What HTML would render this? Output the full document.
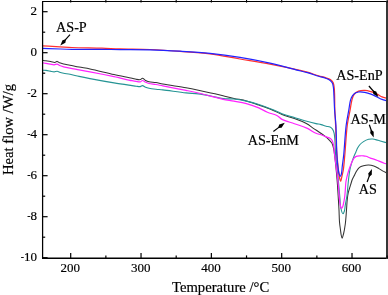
<!DOCTYPE html>
<html><head><meta charset="utf-8"><style>
html,body{margin:0;padding:0;background:#fff;width:388px;height:295px;overflow:hidden}
svg{display:block}
text{font-family:"Liberation Serif","Times New Roman",serif;fill:#000;stroke:#000;stroke-width:0.18px}
</style></head><body>
<svg width="388" height="295" viewBox="0 0 388 295">
<rect x="0" y="0" width="388" height="295" fill="#fff"/>

<g fill="none" stroke-linejoin="round" stroke-linecap="round">
<path d="M42.50,60.30 C43.67,60.43 44.71,60.50 46.00,60.70 C47.61,60.96 49.81,61.50 51.40,61.80 C52.66,62.04 53.78,62.51 54.80,62.40 C55.69,62.30 56.41,61.35 57.20,61.40 C58.01,61.45 58.67,62.40 59.60,62.80 C60.74,63.29 62.10,63.64 63.60,64.00 C65.47,64.46 67.68,64.74 70.00,65.20 C72.77,65.75 75.92,66.49 79.10,67.10 C82.56,67.76 85.67,68.12 90.00,69.00 C96.46,70.31 106.56,72.97 114.00,74.60 C120.42,76.01 128.13,77.43 132.00,78.30 C133.86,78.72 134.72,79.08 136.10,79.30 C137.48,79.52 139.16,79.87 140.30,79.60 C141.19,79.39 141.72,78.27 142.50,78.30 C143.46,78.34 144.50,79.91 145.60,80.50 C146.67,81.07 147.64,81.47 149.00,81.80 C150.89,82.26 153.69,82.21 156.00,82.60 C158.29,82.98 159.85,83.54 162.80,84.10 C168.22,85.13 179.48,86.65 186.00,87.80 C190.78,88.64 194.27,89.35 198.40,90.20 C202.54,91.05 206.68,91.97 210.80,92.90 C214.91,93.83 219.12,94.86 223.10,95.80 C226.84,96.69 230.24,97.57 234.00,98.40 C237.99,99.28 242.30,99.81 246.40,100.90 C250.57,102.00 254.68,103.58 258.80,105.00 C262.92,106.42 267.16,107.78 271.10,109.40 C274.88,110.96 278.20,112.99 282.00,114.50 C285.96,116.07 290.30,117.06 294.40,118.60 C298.56,120.16 303.45,121.96 306.80,123.80 C309.31,125.18 310.75,126.59 313.00,128.10 C315.62,129.86 319.16,131.99 321.60,133.70 C323.49,135.03 325.04,136.15 326.50,137.40 C327.80,138.52 329.02,139.72 330.00,140.80 C330.79,141.67 331.44,142.26 332.00,143.30 C332.72,144.65 333.18,146.57 333.60,148.40 C334.07,150.44 334.23,152.09 334.60,155.00 C335.31,160.65 336.49,172.72 337.10,180.00 C337.57,185.63 337.78,190.00 338.10,195.00 C338.42,200.00 338.76,205.28 339.00,210.00 C339.21,214.22 339.20,218.41 339.50,222.00 C339.74,224.94 340.19,227.65 340.50,230.00 C340.75,231.86 340.89,233.53 341.20,235.00 C341.45,236.19 341.75,238.19 342.10,238.20 C342.50,238.21 343.06,235.72 343.50,234.00 C344.16,231.40 344.82,227.63 345.30,224.00 C345.87,219.74 346.15,214.39 346.50,210.00 C346.81,206.11 346.95,202.11 347.30,199.00 C347.56,196.69 347.80,194.84 348.20,193.00 C348.55,191.38 349.05,190.04 349.50,188.50 C349.98,186.88 350.49,185.12 351.00,183.50 C351.49,181.96 351.89,180.43 352.50,179.00 C353.10,177.60 353.92,176.34 354.60,175.00 C355.28,173.67 355.80,172.27 356.60,171.00 C357.42,169.70 358.32,168.19 359.50,167.30 C360.63,166.45 362.06,166.08 363.50,165.70 C365.07,165.28 366.90,164.95 368.60,165.00 C370.33,165.05 372.11,165.42 373.80,166.00 C375.55,166.60 377.31,167.71 378.90,168.60 C380.36,169.41 381.61,170.33 383.00,171.10 C384.38,171.86 385.80,172.50 387.20,173.20" stroke="#333" stroke-width="1.05"/>
<path d="M42.50,70.20 C43.67,70.27 44.79,70.26 46.00,70.40 C47.32,70.55 48.74,70.85 50.10,71.10 C51.44,71.35 52.85,71.90 54.10,71.90 C55.20,71.90 56.25,71.20 57.20,71.30 C58.07,71.39 58.69,72.00 59.60,72.30 C60.75,72.68 62.10,73.00 63.60,73.30 C65.48,73.68 67.69,73.85 70.00,74.30 C72.78,74.84 75.92,75.71 79.10,76.40 C82.56,77.15 85.65,77.77 90.00,78.60 C96.44,79.83 106.57,81.68 114.00,82.90 C120.42,83.96 128.12,85.03 132.00,85.60 C133.85,85.87 134.72,86.03 136.10,86.20 C137.49,86.37 139.15,86.79 140.30,86.60 C141.17,86.45 141.71,85.57 142.50,85.60 C143.45,85.64 144.52,86.85 145.60,87.30 C146.68,87.75 147.65,88.01 149.00,88.30 C150.90,88.71 153.68,89.03 156.00,89.30 C158.28,89.56 159.86,89.58 162.80,89.90 C168.24,90.49 179.46,92.21 186.00,92.90 C190.77,93.40 194.28,93.39 198.40,93.90 C202.54,94.42 206.68,95.22 210.80,96.00 C214.92,96.78 219.10,98.11 223.10,98.60 C226.82,99.06 230.26,98.62 234.00,99.00 C238.01,99.41 242.29,100.21 246.40,101.10 C250.55,102.00 254.71,103.09 258.80,104.40 C262.94,105.72 267.14,107.41 271.10,109.00 C274.86,110.51 278.21,112.29 282.00,113.70 C285.96,115.17 290.26,116.33 294.40,117.60 C298.53,118.87 302.96,120.25 306.80,121.30 C310.08,122.20 313.38,123.02 316.00,123.60 C317.94,124.03 319.41,124.17 321.10,124.60 C322.81,125.04 324.62,125.79 326.20,126.20 C327.55,126.55 328.92,126.47 330.00,127.00 C330.99,127.48 331.84,128.19 332.50,129.10 C333.26,130.15 333.71,131.54 334.10,133.10 C334.61,135.12 334.68,137.47 334.90,140.30 C335.22,144.33 335.17,149.46 335.60,155.00 C336.16,162.24 337.55,172.35 338.30,180.00 C338.94,186.49 339.44,192.88 339.90,198.00 C340.24,201.82 340.15,205.16 340.80,208.00 C341.31,210.24 342.31,213.77 343.00,213.80 C343.49,213.82 344.04,212.14 344.40,211.00 C344.90,209.41 344.94,207.20 345.30,205.00 C345.74,202.30 346.42,199.44 346.90,196.00 C347.53,191.44 347.95,184.67 348.50,180.00 C348.93,176.36 349.20,173.37 349.80,170.30 C350.36,167.46 351.15,164.65 351.90,162.20 C352.53,160.12 353.20,158.27 353.90,156.50 C354.54,154.90 355.26,153.45 355.90,152.00 C356.49,150.65 356.92,149.35 357.60,148.10 C358.29,146.84 359.03,145.57 360.00,144.50 C360.99,143.40 362.16,142.44 363.50,141.60 C364.99,140.67 366.96,139.72 368.60,139.30 C370.01,138.94 371.26,138.88 372.70,139.00 C374.34,139.14 376.27,139.86 377.90,140.30 C379.35,140.69 380.59,141.10 382.00,141.50 C383.51,141.93 385.13,142.37 386.70,142.80" stroke="#259494" stroke-width="1.1"/>
<path d="M42.50,62.80 C43.67,63.00 44.79,63.19 46.00,63.40 C47.31,63.62 48.74,63.87 50.10,64.10 C51.44,64.33 52.85,64.83 54.10,64.80 C55.20,64.77 56.26,63.95 57.20,64.10 C58.08,64.24 58.67,65.08 59.60,65.50 C60.74,66.01 62.10,66.39 63.60,66.80 C65.47,67.31 67.67,67.74 70.00,68.20 C72.76,68.74 75.93,69.23 79.10,69.80 C82.57,70.42 85.66,70.96 90.00,71.80 C96.45,73.05 106.58,75.12 114.00,76.70 C120.44,78.07 128.12,79.94 132.00,80.70 C133.84,81.06 134.72,81.22 136.10,81.40 C137.49,81.58 139.16,82.05 140.30,81.80 C141.19,81.60 141.70,80.51 142.50,80.50 C143.44,80.48 144.53,81.70 145.60,82.20 C146.69,82.70 147.64,83.15 149.00,83.50 C150.89,83.99 153.69,84.10 156.00,84.50 C158.29,84.90 159.86,85.31 162.80,85.90 C168.23,86.99 179.47,89.08 186.00,90.40 C190.78,91.36 194.28,92.04 198.40,93.00 C202.54,93.97 206.67,95.15 210.80,96.20 C214.91,97.25 219.11,98.47 223.10,99.30 C226.83,100.08 230.26,100.41 234.00,101.10 C238.01,101.83 242.30,102.48 246.40,103.60 C250.57,104.74 255.09,106.32 258.80,107.90 C261.98,109.26 264.38,111.02 267.40,112.30 C270.54,113.63 274.70,114.28 277.30,115.70 C279.27,116.77 279.94,118.27 282.00,119.40 C285.05,121.07 290.27,122.25 294.40,123.70 C298.54,125.15 303.04,126.39 306.80,128.10 C310.17,129.64 313.33,132.17 316.00,133.30 C317.90,134.10 319.42,134.21 321.10,134.80 C322.82,135.40 324.62,136.30 326.20,136.90 C327.55,137.41 328.99,137.56 330.00,138.20 C330.85,138.75 331.45,139.37 332.00,140.30 C332.74,141.55 333.19,143.33 333.60,145.30 C334.16,147.98 334.14,151.02 334.60,155.00 C335.34,161.40 336.94,172.12 337.80,180.00 C338.57,187.03 339.07,195.29 339.60,200.00 C339.89,202.59 339.96,204.47 340.40,206.00 C340.69,207.01 341.09,208.35 341.50,208.40 C341.84,208.44 342.32,207.54 342.60,207.00 C342.90,206.42 342.98,205.91 343.20,205.00 C343.66,203.09 344.37,199.34 344.80,196.00 C345.33,191.86 345.44,185.39 345.90,182.00 C346.17,180.04 346.40,179.09 346.80,177.40 C347.31,175.28 348.04,172.65 348.80,170.30 C349.57,167.92 350.46,165.33 351.40,163.20 C352.21,161.36 353.04,159.39 354.00,158.20 C354.68,157.36 355.30,156.80 356.20,156.40 C357.24,155.93 358.76,155.90 360.00,155.80 C361.19,155.71 362.42,155.70 363.50,155.80 C364.44,155.89 365.14,156.01 366.10,156.30 C367.37,156.68 369.04,157.62 370.40,158.10 C371.59,158.52 372.56,158.68 373.80,159.10 C375.34,159.63 377.19,160.42 378.90,161.10 C380.63,161.79 382.52,162.62 384.10,163.20 C385.40,163.68 386.50,164.00 387.70,164.40" stroke="#ff22ff" stroke-width="1.2"/>
<path d="M42.50,45.80 C48.33,46.13 54.72,46.49 60.00,46.80 C64.38,47.05 67.10,47.30 72.00,47.50 C79.75,47.82 93.27,47.93 102.00,48.20 C108.76,48.41 113.24,48.70 120.00,48.90 C128.73,49.16 140.00,49.10 150.00,49.50 C160.00,49.90 170.00,50.58 180.00,51.30 C190.00,52.02 200.03,52.52 210.00,53.80 C220.03,55.08 230.00,57.27 240.00,59.00 C250.00,60.73 260.02,62.30 270.00,64.20 C280.02,66.10 293.40,68.91 300.00,70.40 C303.27,71.14 304.61,71.44 307.30,72.20 C310.69,73.15 315.38,74.81 318.70,75.80 C321.25,76.56 323.45,77.01 325.50,77.70 C327.26,78.29 328.99,78.71 330.30,79.60 C331.47,80.39 332.45,81.36 333.10,82.60 C333.84,84.02 333.95,85.92 334.20,87.80 C334.49,89.99 334.50,92.20 334.60,95.00 C334.74,98.90 334.65,104.18 334.80,109.00 C334.97,114.16 335.33,119.07 335.60,125.00 C335.93,132.41 336.13,142.60 336.60,150.00 C336.98,155.93 337.48,161.17 338.00,166.00 C338.43,170.01 338.83,174.22 339.40,177.00 C339.76,178.75 340.19,181.20 340.60,181.20 C341.05,181.20 341.56,177.80 342.00,176.00 C342.47,174.08 342.91,172.46 343.30,170.00 C343.91,166.14 344.26,160.86 344.80,155.00 C345.56,146.72 346.19,133.26 347.30,125.00 C348.09,119.12 349.29,114.43 350.10,110.00 C350.74,106.47 351.05,103.28 351.80,100.50 C352.41,98.24 352.81,96.07 354.00,94.50 C355.12,93.02 356.86,91.89 358.60,91.20 C360.43,90.48 362.75,90.32 364.80,90.40 C366.85,90.48 368.88,91.10 370.90,91.70 C372.98,92.32 375.17,93.19 377.10,94.10 C378.89,94.94 380.40,96.21 382.10,96.90 C383.70,97.55 385.37,97.77 387.00,98.20" stroke="#ff3030" stroke-width="1.25"/>
<path d="M42.50,48.30 C48.33,48.53 54.71,48.83 60.00,49.00 C64.38,49.14 67.10,49.23 72.00,49.30 C79.75,49.41 93.27,49.34 102.00,49.40 C108.76,49.45 113.24,49.54 120.00,49.60 C128.73,49.68 140.00,49.53 150.00,49.80 C160.00,50.07 170.00,50.60 180.00,51.20 C190.00,51.80 200.02,52.37 210.00,53.40 C220.02,54.43 230.02,55.79 240.00,57.40 C250.02,59.02 260.39,60.95 270.00,63.10 C279.01,65.11 289.11,68.06 296.00,69.80 C300.54,70.95 303.54,71.53 307.30,72.60 C311.11,73.69 315.38,75.30 318.70,76.30 C321.25,77.07 323.55,77.52 325.50,78.20 C327.03,78.74 328.37,79.11 329.50,79.90 C330.58,80.66 331.55,81.63 332.20,82.80 C332.90,84.06 333.12,85.58 333.40,87.30 C333.76,89.51 333.73,92.01 333.90,95.00 C334.13,99.17 334.27,105.00 334.60,110.00 C334.93,115.00 335.55,119.14 335.90,125.00 C336.40,133.28 336.47,147.46 336.90,155.00 C337.16,159.57 337.40,162.69 337.80,166.00 C338.13,168.75 338.47,171.59 339.00,173.50 C339.35,174.75 339.78,176.49 340.20,176.50 C340.59,176.51 341.08,175.10 341.40,174.00 C341.94,172.12 341.96,168.88 342.30,166.00 C342.70,162.62 343.22,159.57 343.70,155.00 C344.49,147.46 345.14,133.26 346.20,125.00 C346.95,119.12 348.03,114.48 348.80,110.00 C349.43,106.36 349.72,102.68 350.50,100.10 C351.03,98.33 351.59,96.98 352.40,95.80 C353.10,94.78 353.90,93.93 354.90,93.30 C355.95,92.64 357.19,92.19 358.60,92.00 C360.38,91.76 362.76,92.05 364.80,92.40 C366.86,92.75 368.89,93.36 370.90,94.10 C372.99,94.87 375.15,96.07 377.10,97.00 C378.86,97.83 380.41,98.76 382.10,99.40 C383.72,100.01 385.37,100.33 387.00,100.80" stroke="#2222ff" stroke-width="1.2"/>
</g>
<g stroke="#000" fill="none">
<path d="M42.6,1.5 L42.6,258.2" stroke-width="1.25"/>
<path d="M42.0,258.2 L387.0,258.2" stroke-width="1.4"/>
<path d="M42.0,1.5 L388.0,1.5" stroke-width="1.2"/>
<path d="M387.0,0.9 L387.0,258.9" stroke-width="2.0" stroke="#363636"/>
<path d="M42.6,257.70 h5.0" stroke-width="1.2"/>
<path d="M42.6,237.20 h2.6" stroke-width="1.2"/>
<path d="M42.6,216.70 h5.0" stroke-width="1.2"/>
<path d="M42.6,196.20 h2.6" stroke-width="1.2"/>
<path d="M42.6,175.70 h5.0" stroke-width="1.2"/>
<path d="M42.6,155.20 h2.6" stroke-width="1.2"/>
<path d="M42.6,134.70 h5.0" stroke-width="1.2"/>
<path d="M42.6,114.20 h2.6" stroke-width="1.2"/>
<path d="M42.6,93.70 h5.0" stroke-width="1.2"/>
<path d="M42.6,73.20 h2.6" stroke-width="1.2"/>
<path d="M42.6,52.70 h5.0" stroke-width="1.2"/>
<path d="M42.6,32.20 h2.6" stroke-width="1.2"/>
<path d="M42.6,11.70 h5.0" stroke-width="1.2"/>
<path d="M70.70,0 v2.6" stroke-width="1.1"/>
<path d="M70.70,258.2 v-5.2" stroke-width="1.2"/>
<path d="M105.87,0 v2.6" stroke-width="1.1"/>
<path d="M105.87,258.2 v-2.8" stroke-width="1.2"/>
<path d="M141.03,0 v2.6" stroke-width="1.1"/>
<path d="M141.03,258.2 v-5.2" stroke-width="1.2"/>
<path d="M176.19,0 v2.6" stroke-width="1.1"/>
<path d="M176.19,258.2 v-2.8" stroke-width="1.2"/>
<path d="M211.36,0 v2.6" stroke-width="1.1"/>
<path d="M211.36,258.2 v-5.2" stroke-width="1.2"/>
<path d="M246.53,0 v2.6" stroke-width="1.1"/>
<path d="M246.53,258.2 v-2.8" stroke-width="1.2"/>
<path d="M281.69,0 v2.6" stroke-width="1.1"/>
<path d="M281.69,258.2 v-5.2" stroke-width="1.2"/>
<path d="M316.86,0 v2.6" stroke-width="1.1"/>
<path d="M316.86,258.2 v-2.8" stroke-width="1.2"/>
<path d="M352.02,0 v2.6" stroke-width="1.1"/>
<path d="M352.02,258.2 v-5.2" stroke-width="1.2"/>
<path d="M387.19,0 v2.6" stroke-width="1.1"/>
<path d="M387.19,258.2 v-2.8" stroke-width="1.2"/>
</g>
<text x="37.1" y="261.30" font-size="13.0" text-anchor="end"><tspan textLength="3.3" lengthAdjust="spacingAndGlyphs">-</tspan>10</text>
<text x="37.1" y="220.30" font-size="13.0" text-anchor="end"><tspan textLength="3.3" lengthAdjust="spacingAndGlyphs">-</tspan>8</text>
<text x="37.1" y="179.30" font-size="13.0" text-anchor="end"><tspan textLength="3.3" lengthAdjust="spacingAndGlyphs">-</tspan>6</text>
<text x="37.1" y="138.30" font-size="13.0" text-anchor="end"><tspan textLength="3.3" lengthAdjust="spacingAndGlyphs">-</tspan>4</text>
<text x="37.1" y="97.30" font-size="13.0" text-anchor="end"><tspan textLength="3.3" lengthAdjust="spacingAndGlyphs">-</tspan>2</text>
<text x="37.1" y="56.30" font-size="13.0" text-anchor="end">0</text>
<text x="37.1" y="15.30" font-size="13.0" text-anchor="end">2</text>
<text x="70.30" y="271.9" font-size="13.0" text-anchor="middle">200</text>
<text x="140.63" y="271.9" font-size="13.0" text-anchor="middle">300</text>
<text x="210.96" y="271.9" font-size="13.0" text-anchor="middle">400</text>
<text x="281.29" y="271.9" font-size="13.0" text-anchor="middle">500</text>
<text x="351.62" y="271.9" font-size="13.0" text-anchor="middle">600</text>
<text x="172.0" y="291.5" font-size="14.67">Temperature /°C</text>
<text transform="translate(12.5,175.0) rotate(-90)" font-size="14.67">Heat flow /W/g</text>
<text x="56.0" y="31.6" font-size="14.2">AS-P</text>
<text x="336.2" y="80.4" font-size="14.2">AS-EnP</text>
<text x="350.5" y="124.0" font-size="14.2">AS-M</text>
<text x="247.7" y="144.6" font-size="14.2">AS-EnM</text>
<text x="358.8" y="193.6" font-size="14.2">AS</text>
<line x1="70.00" y1="34.60" x2="63.94" y2="41.47" stroke="#000" stroke-width="1.2"/><polygon points="60.30,45.60 62.51,40.22 65.92,39.22 65.36,42.73" fill="#000"/>
<line x1="368.90" y1="86.00" x2="374.79" y2="92.75" stroke="#000" stroke-width="1.2"/><polygon points="378.40,96.90 373.35,94.00 372.82,90.49 376.22,91.51" fill="#000"/>
<line x1="369.30" y1="124.70" x2="371.91" y2="132.30" stroke="#000" stroke-width="1.2"/><polygon points="373.70,137.50 370.12,132.92 370.94,129.46 373.71,131.68" fill="#000"/>
<line x1="273.40" y1="131.40" x2="280.41" y2="126.11" stroke="#000" stroke-width="1.2"/><polygon points="284.80,122.80 281.55,127.63 278.01,127.92 279.27,124.60" fill="#000"/>
<line x1="367.10" y1="182.00" x2="369.99" y2="174.16" stroke="#000" stroke-width="1.2"/><polygon points="371.90,169.00 371.78,174.82 368.96,176.97 368.21,173.50" fill="#000"/>
</svg></body></html>
